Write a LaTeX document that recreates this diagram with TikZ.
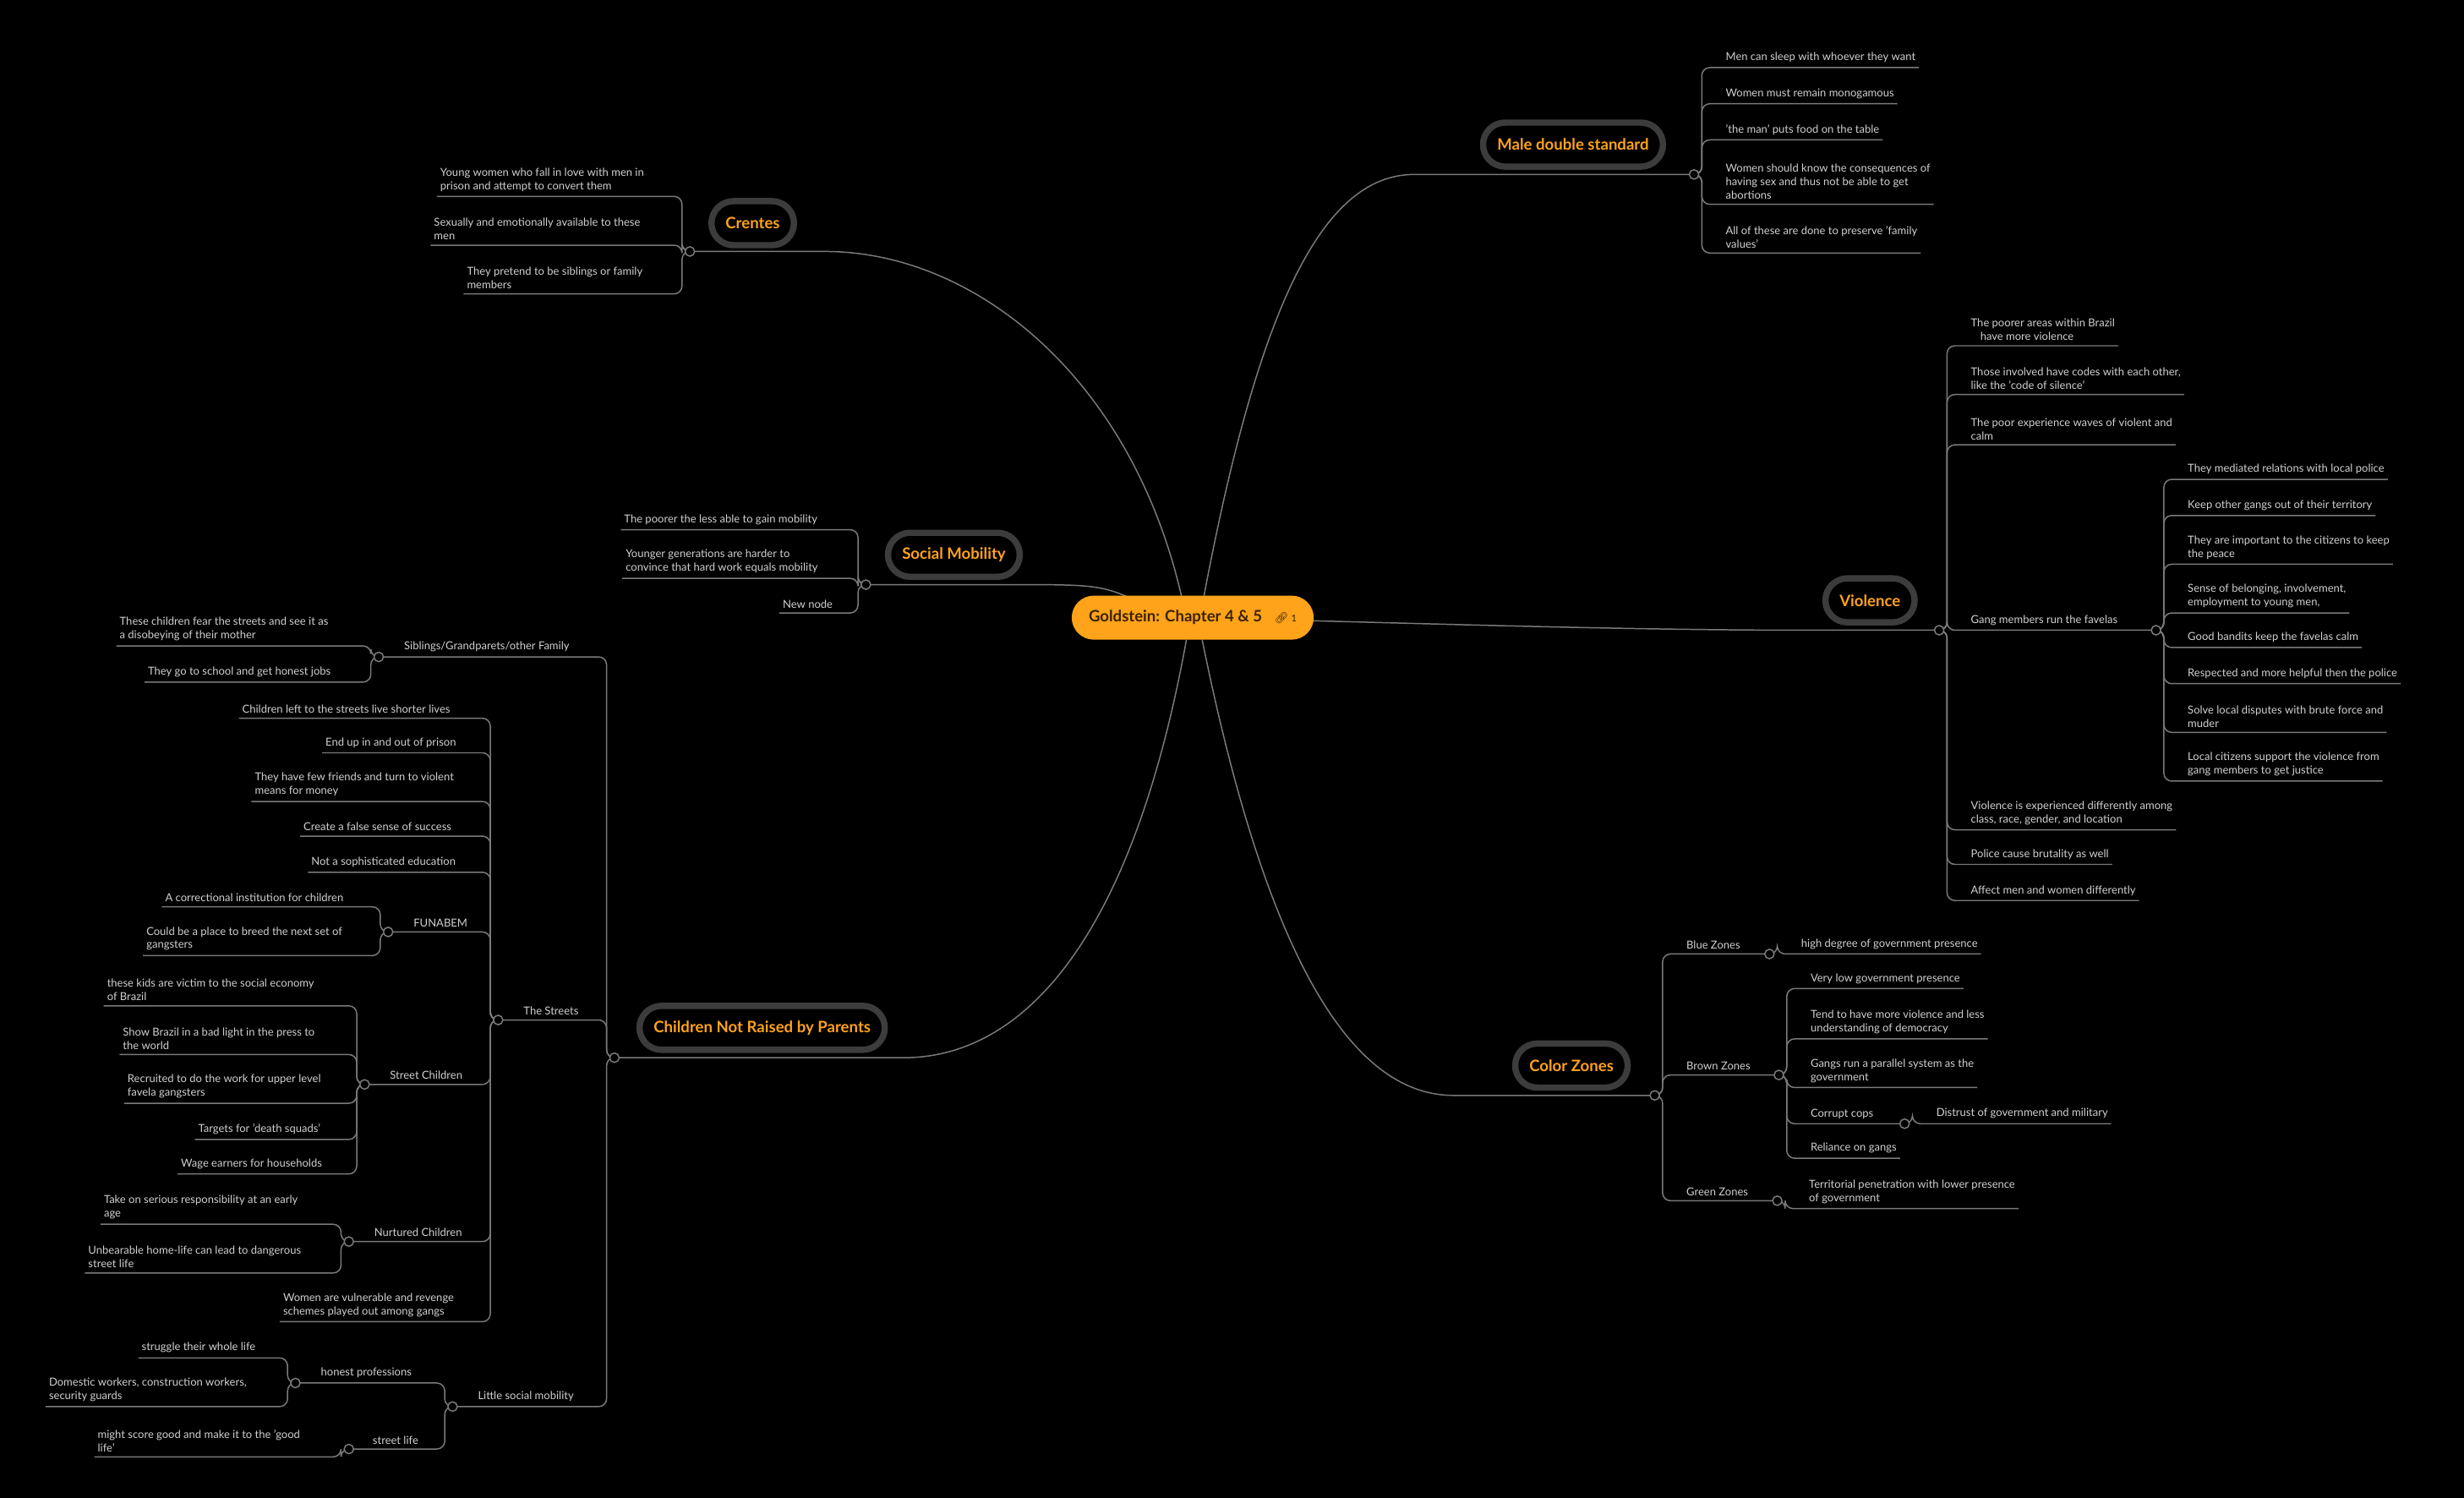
\documentclass[tikz,border=0pt]{standalone}
\usepackage{fontspec}
\setmainfont{Lato}
\newfontfamily\emo{Noto Emoji}
\definecolor{bgc}{HTML}{000000}
\definecolor{lnc}{HTML}{7A7A7A}
\definecolor{txc}{HTML}{D0D0D0}
\definecolor{orc}{HTML}{FFA31A}
\definecolor{bdc}{HTML}{3C3C3C}
\definecolor{ctx}{HTML}{3A2200}
\tikzset{
 conn/.style={draw=lnc,line width=0.8pt,rounded corners=5pt},
 leaf/.style={text=txc,font=\fontsize{7}{8.6}\selectfont,align=left,inner xsep=2pt,inner ysep=3pt},
 topic/.style={draw=bdc,line width=4pt,rounded corners=14pt,fill=black,text=orc,font=\fontsize{10}{12}\selectfont\bfseries,minimum height=28pt,inner xsep=9pt},
 junc/.style={circle,draw=lnc,fill=black,line width=0.8pt,minimum size=6pt,inner sep=0pt},
}
\newcommand\LR[5]{\node[leaf,anchor=south west] (#1) at (#2-2,#3) {#4}; \draw[conn] (#5) -- ++(5,0) |- (#1.south east);}
\newcommand\LL[5]{\node[leaf,anchor=south west] (#1) at (#2-2,#3) {#4}; \draw[conn] (#5) -- ++(-5,0) |- (#1.south west);}
\newcommand\MR[6]{\node[leaf,anchor=south west] (#1) at (#2-2,#3) {#4}; \draw[conn] (#5) -- ++(5,0) |- (#1.south west) -- (#6);}
\newcommand\ML[6]{\node[leaf,anchor=south west] (#1) at (#2-2,#3) {#4}; \draw[conn] (#5) -- ++(-5,0) |- (#1.south east) -- (#6);}
\begin{document}
\begin{tikzpicture}[x=1pt,y=-1pt]
\fill[bgc] (0,0) rectangle (1568,953);
\useasboundingbox (0,0) rectangle (1568,953);
% junctions
\coordinate (jm) at (1078,111); \coordinate (jc) at (439,160); \coordinate (js) at (551,372);
\coordinate (jv) at (1234,401); \coordinate (jg) at (1372,401); \coordinate (jz) at (1053,697);
\coordinate (jb) at (1126,607); \coordinate (jn) at (1132,684); \coordinate (jcc) at (1212,715);
\coordinate (jgz) at (1131,764); \coordinate (jk) at (391,673); \coordinate (jsib) at (241,418);
\coordinate (jst) at (317,649); \coordinate (jf) at (247,593); \coordinate (jsc) at (232,690);
\coordinate (jnc) at (222,790); \coordinate (jl) at (288,895); \coordinate (jh) at (188,880);
\coordinate (jsl) at (222,922);
% main curves
\coordinate (s1) at (766,380); \coordinate (s2) at (752,380); \coordinate (s3) at (718,380);
\coordinate (s4) at (836,395); \coordinate (s5) at (765,407); \coordinate (s6) at (755,407);
\draw[conn] (s1) .. controls (800,200) and (840,111) .. (905,111) -- (jm);
\draw[conn] (s2) .. controls (720,240) and (620,160) .. (520,160) -- (jc);
\draw[conn] (s3) .. controls (700,372) and (690,372) .. (640,372) -- (js);
\draw[conn] (s4) .. controls (950,398) and (1050,401) .. (1160,401) -- (jv);
\draw[conn] (s5) .. controls (800,580) and (850,697) .. (930,697) -- (jz);
\draw[conn] (s6) .. controls (720,600) and (650,673) .. (570,673) -- (jk);
% center & topics
\node[fill=orc,rounded corners=14pt,minimum height=28pt,minimum width=154pt,text=ctx,font=\fontsize{10}{12}\selectfont\bfseries] (center) at (759,393) {Goldstein: Chapter 4 \& 5\hspace{8pt}{\emo\fontsize{7}{8}\selectfont 🔗}\,{\fontsize{6}{7}\selectfont\mdseries 1}};
\node[topic] (male) at (1001,92) {Male double standard};
\node[topic] (cren) at (479,142) {Crentes};
\node[topic] (soc) at (607,353) {Social Mobility};
\node[topic] (vio) at (1190,382) {Violence};
\node[topic] (col) at (1000,678) {Color Zones};
\node[topic] (chi) at (485,654) {Children Not Raised by Parents};
% male
\LR{m1}{1098}{43}{Men can sleep with whoever they want}{jm}
\LR{m2}{1098}{66}{Women must remain monogamous}{jm}
\LR{m3}{1098}{89}{'the man' puts food on the table}{jm}
\LR{m4}{1098}{130}{Women should know the consequences of\\having sex and thus not be able to get\\abortions}{jm}
\LR{m5}{1098}{161}{All of these are done to preserve 'family\\values'}{jm}
% crentes
\LL{c1}{280}{125}{Young women who fall in love with men in\\prison and attempt to convert them}{jc}
\LL{c2}{276}{156}{Sexually and emotionally available to these\\men}{jc}
\LL{c3}{297}{187}{They pretend to be siblings or family\\members}{jc}
% social
\LL{so1}{397}{337}{The poorer the less able to gain mobility}{js}
\LL{so2}{398}{368}{Younger generations are harder to\\convince that hard work equals mobility}{js}
\LL{so3}{498}{390}{New node}{js}
% violence
\LR{v1}{1254}{220}{The poorer areas within Brazil\\\hspace{6pt}have more violence}{jv}
\LR{v2}{1254}{251}{Those involved have codes with each other,\\like the 'code of silence'}{jv}
\LR{v3}{1254}{283}{The poor experience waves of violent and\\calm}{jv}
\MR{v4}{1254}{401}{Gang members run the favelas}{jv}{jg}
\LR{g1}{1392}{305}{They mediated relations with local police}{jg}
\LR{g2}{1392}{328}{Keep other gangs out of their territory}{jg}
\LR{g3}{1392}{359}{They are important to the citizens to keep\\the peace}{jg}
\LR{g4}{1392}{390}{Sense of belonging, involvement,\\employment to young men,}{jg}
\LR{g5}{1392}{412}{Good bandits keep the favelas calm}{jg}
\LR{g6}{1392}{435}{Respected and more helpful then the police}{jg}
\LR{g7}{1392}{466}{Solve local disputes with brute force and\\muder}{jg}
\LR{g8}{1392}{497}{Local citizens support the violence from\\gang members to get justice}{jg}
\LR{v5}{1254}{528}{Violence is experienced differently among\\class, race, gender, and location}{jv}
\LR{v6}{1254}{550}{Police cause brutality as well}{jv}
\LR{v7}{1254}{573}{Affect men and women differently}{jv}
% color zones
\MR{z1}{1073}{607}{Blue Zones}{jz}{jb}
\LR{b1}{1146}{607}{high degree of government presence}{jb}
\MR{z2}{1073}{684}{Brown Zones}{jz}{jn}
\LR{n1}{1152}{629}{Very low government presence}{jn}
\LR{n2}{1152}{661}{Tend to have more violence and less\\understanding of democracy}{jn}
\LR{n3}{1152}{692}{Gangs run a parallel system as the\\government}{jn}
\MR{n4}{1152}{715}{Corrupt cops}{jn}{jcc}
\LR{cc1}{1232}{715}{Distrust of government and military}{jcc}
\LR{n5}{1152}{737}{Reliance on gangs}{jn}
\MR{z3}{1073}{764}{Green Zones}{jz}{jgz}
\LR{gz1}{1151}{769}{Territorial penetration with lower presence\\of government}{jgz}
% children
\ML{k1}{257}{418}{Siblings/Grandparets/other Family}{jk}{jsib}
\LL{sb1}{76}{411}{These children fear the streets and see it as\\a disobeying of their mother}{jsib}
\LL{sb2}{94}{434}{They go to school and get honest jobs}{jsib}
\ML{k2}{333}{649}{The Streets}{jk}{jst}
\LL{st1}{154}{457}{Children left to the streets live shorter lives}{jst}
\LL{st2}{207}{479}{End up in and out of prison}{jst}
\LL{st3}{162}{510}{They have few friends and turn to violent\\means for money}{jst}
\LL{st4}{193}{532}{Create a false sense of success}{jst}
\LL{st5}{198}{555}{Not a sophisticated education}{jst}
\ML{st6}{263}{593}{FUNABEM}{jst}{jf}
\LL{f1}{105}{577}{A correctional institution for children}{jf}
\LL{f2}{93}{608}{Could be a place to breed the next set of\\gangsters}{jf}
\ML{st7}{248}{690}{Street Children}{jst}{jsc}
\LL{sc1}{68}{640}{these kids are victim to the social economy\\of Brazil}{jsc}
\LL{sc2}{78}{671}{Show Brazil in a bad light in the press to\\the world}{jsc}
\LL{sc3}{81}{702}{Recruited to do the work for upper level\\favela gangsters}{jsc}
\LL{sc4}{126}{725}{Targets for 'death squads'}{jsc}
\LL{sc5}{115}{747}{Wage earners for households}{jsc}
\ML{st8}{238}{790}{Nurtured Children}{jst}{jnc}
\LL{nc1}{66}{779}{Take on serious responsibility at an early\\age}{jnc}
\LL{nc2}{56}{810}{Unbearable home-life can lead to dangerous\\street life}{jnc}
\LL{st9}{180}{841}{Women are vulnerable and revenge\\schemes played out among gangs}{jst}
\ML{k3}{304}{895}{Little social mobility}{jk}{jl}
\ML{l1}{204}{880}{honest professions}{jl}{jh}
\LL{h1}{90}{864}{struggle their whole life}{jh}
\LL{h2}{31}{895}{Domestic workers, construction workers,\\security guards}{jh}
\ML{l2}{237}{922}{street life}{jl}{jsl}
\LL{sl1}{62}{927}{might score good and make it to the 'good\\life'}{jsl}
% junction circles
\foreach \j in {jm,jc,js,jv,jg,jz,jb,jn,jcc,jgz,jk,jsib,jst,jf,jsc,jnc,jl,jh,jsl}
  \node[junc] at (\j) {};
\end{tikzpicture}
\end{document}
